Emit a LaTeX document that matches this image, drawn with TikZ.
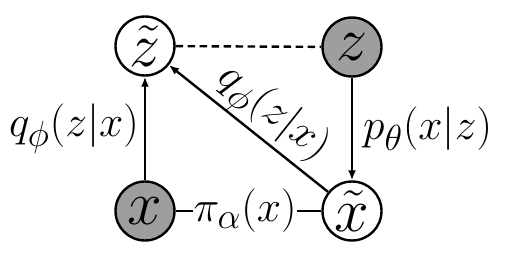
\documentclass[tikz,border=0pt]{standalone}
\usepackage{graphicx}
\usetikzlibrary{arrows.meta}
\newcommand{\bigtxt}[1]{\scalebox{2.5}{\Huge #1}}
\newcommand{\labtxt}[1]{\scalebox{1.75}{\Huge #1}}
\begin{document}
\begin{tikzpicture}[x=1pt,y=1pt,
  var/.style={circle,draw,line width=2.4pt,minimum size=59pt,inner sep=0pt},
  obs/.style={var,fill=black!38},
  lab/.style={inner sep=0pt},
  conn/.style={line width=2.4pt},
  arr/.style={conn,-{Latex[length=10pt,width=8pt]}}]
\useasboundingbox (0,0) rectangle (509,252);
\node[var] (zt) at (145,206) {\bigtxt{$\tilde{z}$}};
\node[obs] (z) at (352,205) {\bigtxt{$z$}};
\node[obs] (x) at (145,41) {\bigtxt{$x$}};
\node[var] (xt) at (352,41) {\bigtxt{$\tilde{x}$}};
\draw[conn,dash pattern=on 7.5pt off 4.5pt] (zt) -- (z);
\draw[arr] (x) -- node[lab,left=5pt] {\labtxt{$q_\phi(z|x)$}} (zt);
\draw[arr] (z) -- node[lab,right=10pt] {\labtxt{$p_\theta(x|z)$}} (xt);
\draw[arr] (xt) -- node[lab,pos=0.45,sloped,above=-1pt] {\labtxt{$q_\phi(z|x)$}} (zt);
\node[lab] (pi) at (245,41) {\labtxt{$\pi_\alpha(x)$}};
\draw[conn] (x) -- (pi);
\draw[conn] (pi) -- (xt);
\end{tikzpicture}
\end{document}
